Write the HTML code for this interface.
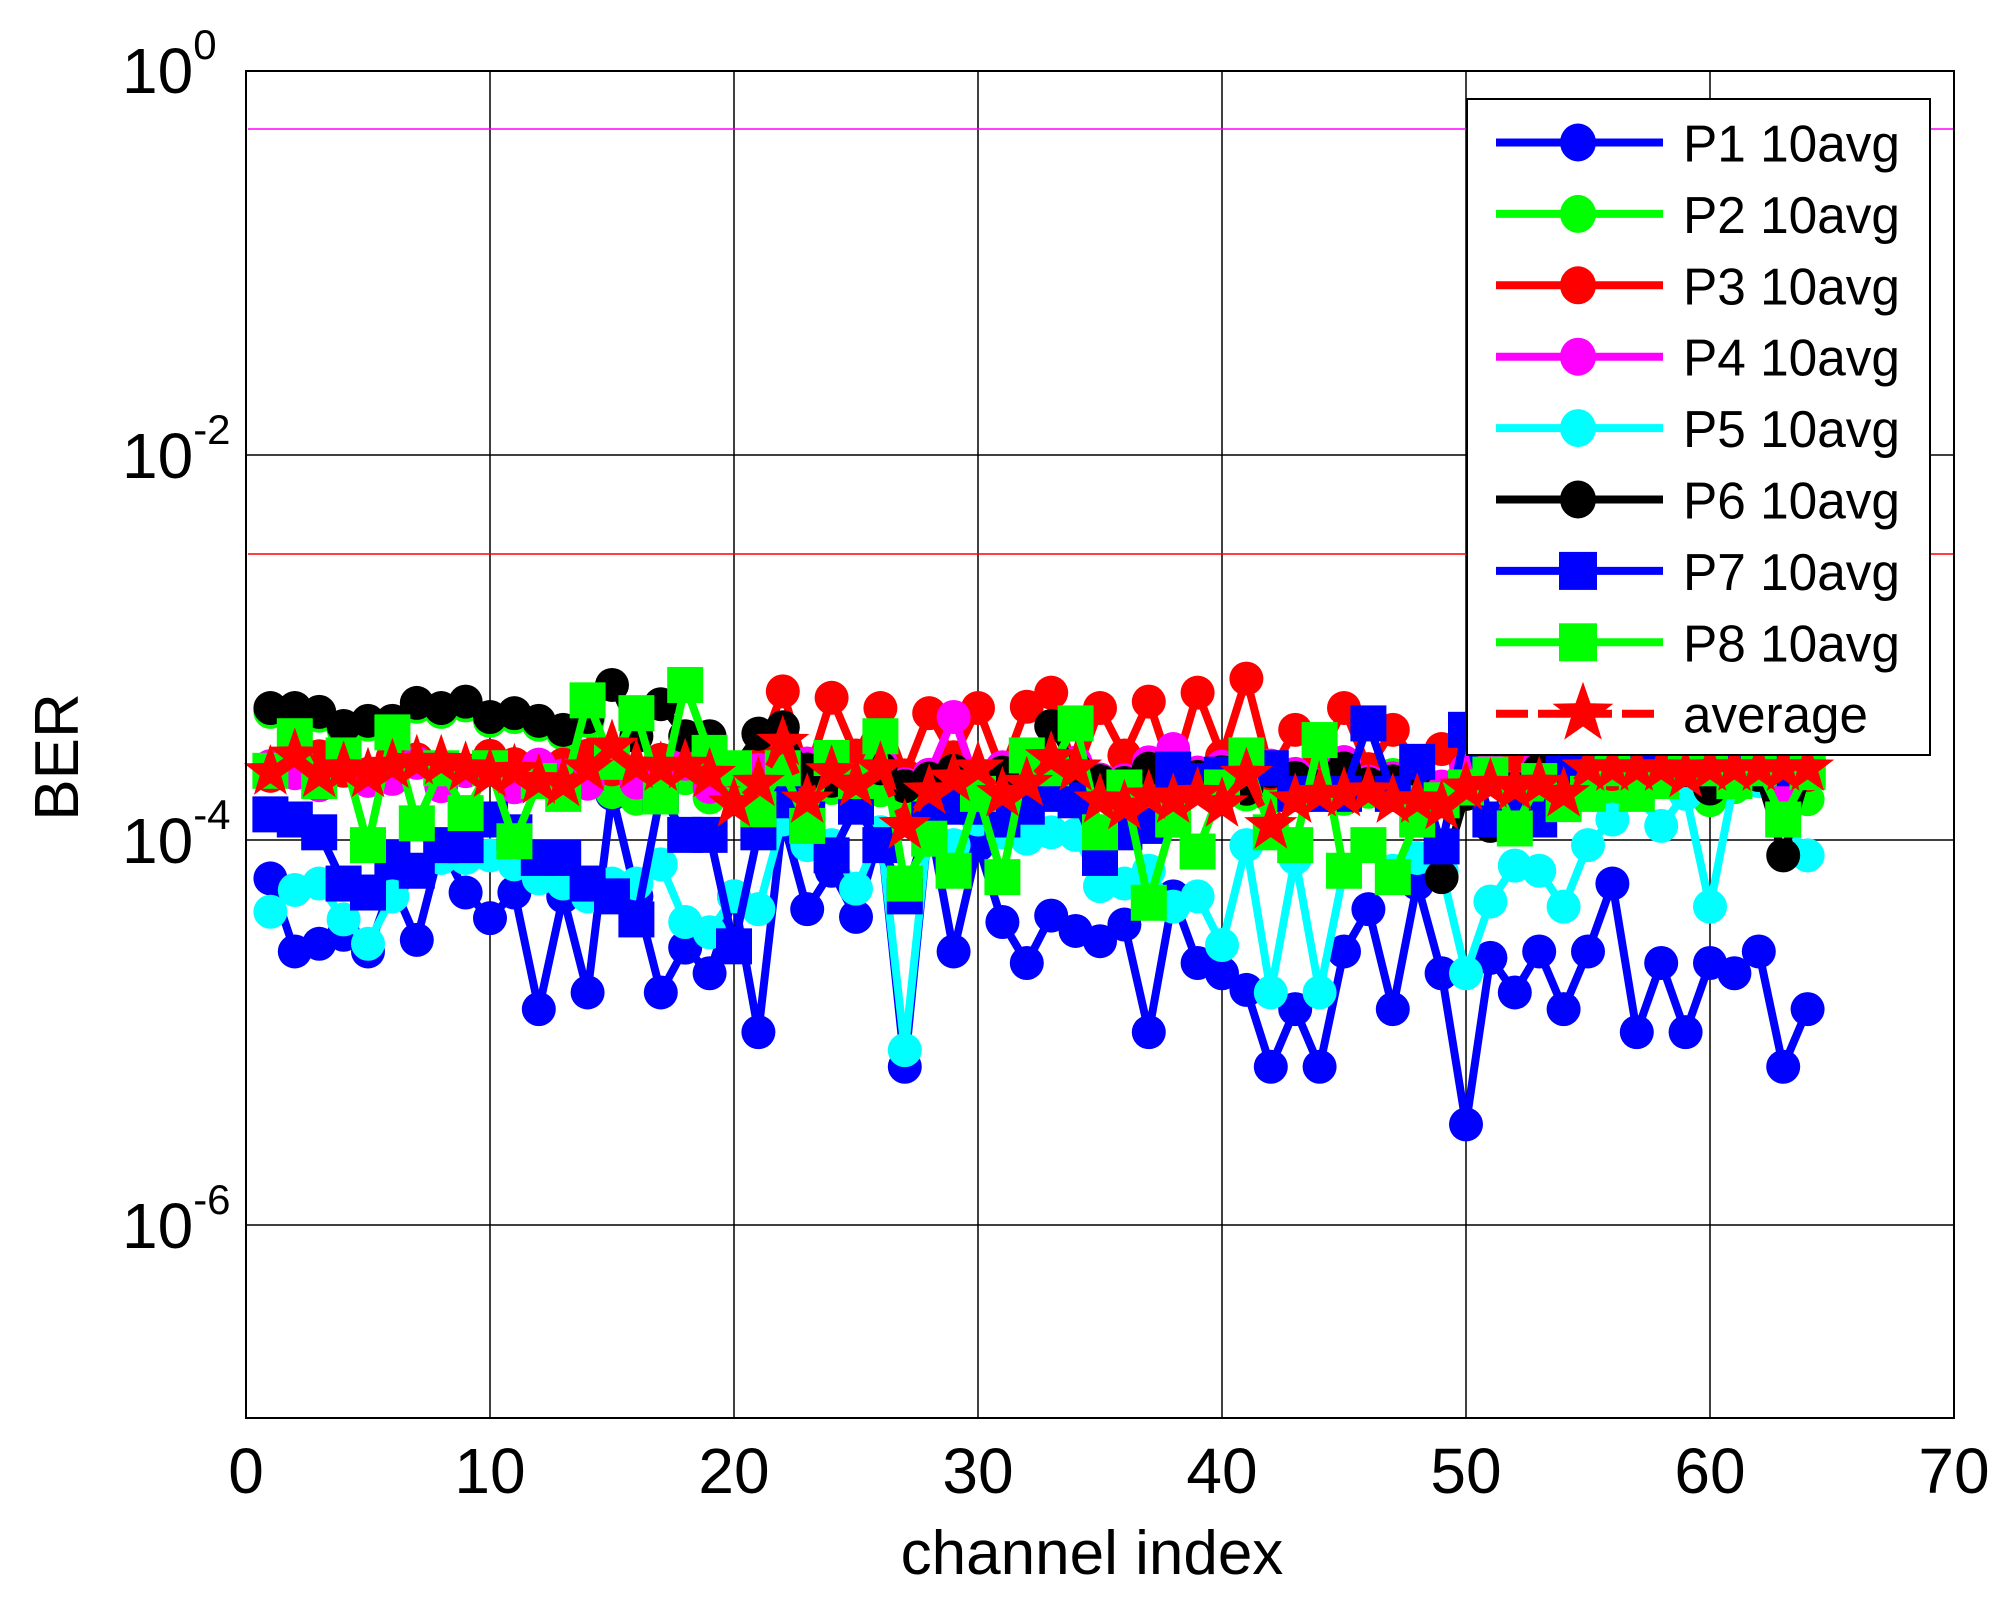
<!DOCTYPE html>
<html><head><meta charset="utf-8"><style>
html,body{margin:0;padding:0;background:#fff;}
svg{display:block;font-family:"Liberation Sans",Arial,sans-serif;}
</style></head><body>
<svg id="s" width="2009" height="1611" viewBox="0 0 2009 1611" xmlns="http://www.w3.org/2000/svg">
<rect x="0" y="0" width="2009" height="1611" fill="#fff"/>
<g id="grid" stroke="#000" stroke-width="1.5"></g>
<line x1="248" y1="129" x2="1954" y2="129" stroke="#ff00ff" stroke-width="1.5"/>
<line x1="248" y1="554" x2="1954" y2="554" stroke="#ff0000" stroke-width="1.5"/>
<g id="data"></g>
<rect x="246" y="71" width="1708" height="1347" fill="none" stroke="#000" stroke-width="2"/>
<g font-size="64" fill="#000" text-anchor="middle">
<text x="246" y="1493">0</text><text x="490" y="1493">10</text><text x="734" y="1493">20</text>
<text x="978" y="1493">30</text><text x="1222" y="1493">40</text><text x="1466" y="1493">50</text>
<text x="1710" y="1493">60</text><text x="1954" y="1493">70</text>
</g>
<g font-size="64" fill="#000">
<text x="122" y="93">10<tspan font-size="42" dy="-34">0</tspan></text>
<text x="122" y="478">10<tspan font-size="42" dy="-34">-2</tspan></text>
<text x="122" y="863">10<tspan font-size="42" dy="-34">-4</tspan></text>
<text x="122" y="1248">10<tspan font-size="42" dy="-34">-6</tspan></text>
</g>
<text x="1092" y="1574" font-size="62" text-anchor="middle">channel index</text>
<text transform="translate(78,757) rotate(-90)" font-size="62" text-anchor="middle">BER</text>
<g id="leg"></g>
</svg>
<script>
var NS="http://www.w3.org/2000/svg";
function el(p,t,a){var e=document.createElementNS(NS,t);for(var k in a)e.setAttribute(k,a[k]);p.appendChild(e);return e;}
var grid=document.getElementById('grid');
for(var i=1;i<7;i++){var x=246+i*244;el(grid,'line',{x1:x,y1:71,x2:x,y2:1418});}
[455,840,1225].forEach(function(y){el(grid,'line',{x1:246,y1:y,x2:1954,y2:y});});
function X(c){return 246+c*24.4;}
function Y(v){return 70+(v-55)*1.2812;}
var P1=[686,743,737,730,743,690,734,660,697,717,697,788,700,775,620,700,775,740,760,700,806,640,710,680,716,650,833,640,743,660,720,752,715,727,735,722,806,700,752,760,773,833,788,833,743,710,788,690,760,878,748,775,743,788,743,690,806,752,806,752,760,743,833,788];
var P5=[712,695,690,718,737,700,680,670,670,668,675,686,690,700,690,690,675,720,728,700,710,640,660,660,694,650,820,640,660,640,650,655,650,652,692,690,680,708,700,738,660,775,670,775,680,660,680,670,680,760,704,676,680,708,660,640,620,645,620,708,610,610,640,668];
var P3=[],P6=[],P2=[],P4=[];
var p3hi={22:540,24:545,26:553,28:557,30:553,32:552,33:541,35:553,37:548,39:541,41:530,43:570,45:553,47:570,49:585};
var p6=[553,553,556,567,563,563,549,553,548,560,557,563,570,560,535,575,550,575,575,600,573,568];
for(var c=1;c<=64;c++){
 var s=Math.sin(c*1.7),t=Math.cos(c*2.3);
 P3.push(p3hi[c]||(598+8*s));
 P6.push(c<=22?p6[c-1]:(608+8*t));
 P2.push(c<=14?p6[c-1]+3:(615+10*s));
 P4.push(c==29?560:(c==38?585:605+10*t));
}
P6[32]=567;P6[34]=610;P6[48]=685;P6[49]=620;P6[50]=645;P6[62]=668;P6[63]=603;
var P8=[602,575,610,590,660,572,643,600,635,600,657,610,620,547,595,557,622,535,588,600,632,600,645,592,610,575,690,655,680,620,685,590,600,565,650,615,705,640,665,615,590,650,660,578,680,660,685,640,625,615,605,647,610,628,620,600,620,610,600,600,610,600,640,603];
var P7=[636,640,650,690,697,670,680,660,660,640,650,670,670,690,700,718,620,652,652,739,650,625,640,668,630,660,700,640,630,630,640,630,620,625,670,650,645,601,610,605,600,600,620,620,620,565,620,595,661,570,640,630,640,600,600,600,600,600,600,600,600,600,600,600];
var AV=[603,590,605,600,605,598,595,595,600,605,602,610,612,600,583,598,600,598,605,628,612,580,625,603,612,600,645,618,608,600,620,612,592,600,625,630,622,625,620,628,605,645,625,620,620,618,625,625,630,615,613,615,612,620,600,600,600,600,605,600,600,600,600,600];
var D=document.getElementById('data');
function pts(a){return a.map(function(v,i){return X(i+1)+','+Y(v);}).join(' ');}
function star(g,cx,cy,R,col){var p=[];for(var k=0;k<10;k++){var r=k%2?R*0.4:R;var a=-Math.PI/2+k*Math.PI/5;p.push((cx+r*Math.cos(a)).toFixed(1)+','+(cy+r*Math.sin(a)).toFixed(1));}el(g,'polygon',{points:p.join(' '),fill:col});}
function series(a,col,mk,dash){
 var g=el(D,'g',{});
 var at={points:pts(a),fill:'none',stroke:col,'stroke-width':8,'stroke-linejoin':'round'};
 if(dash)at['stroke-dasharray']='24 14';
 el(g,'polyline',at);
 a.forEach(function(v,i){var x=X(i+1),y=Y(v);
  if(mk=='o')el(g,'ellipse',{cx:x,cy:y,rx:17,ry:17,fill:col});
  else if(mk=='s')el(g,'rect',{x:x-18,y:y-18,width:36,height:36,fill:col});
  else star(g,x,y,28,col);});
}
series(P1,'#0000ff','o');series(P2,'#00ff00','o');series(P3,'#ff0000','o');series(P4,'#ff00ff','o');
series(P5,'#00ffff','o');series(P6,'#000000','o');series(P7,'#0000ff','s');series(P8,'#00ff00','s');
series(AV,'#ff0000','*',true);
var L=document.getElementById('leg');
el(L,'rect',{x:1467,y:99,width:463,height:656,fill:'#fff',stroke:'#000','stroke-width':2});
var items=[['P1 10avg','#0000ff','o'],['P2 10avg','#00ff00','o'],['P3 10avg','#ff0000','o'],['P4 10avg','#ff00ff','o'],['P5 10avg','#00ffff','o'],['P6 10avg','#000000','o'],['P7 10avg','#0000ff','s'],['P8 10avg','#00ff00','s'],['average','#ff0000','*']];
items.forEach(function(it,i){var y=142.5+i*71.4;
 var at={x1:1496,y1:y,x2:1663,y2:y,stroke:it[1],'stroke-width':8};
 if(it[2]=='*')at['stroke-dasharray']='32 10';
 el(L,'line',at);
 if(it[2]=='o')el(L,'ellipse',{cx:1578,cy:y,rx:18,ry:19,fill:it[1]});
 else if(it[2]=='s')el(L,'rect',{x:1559,y:y-19,width:38,height:38,fill:it[1]});
 else star(L,1583,y,32,it[1]);
 var t=el(L,'text',{x:1683,y:y+19,'font-size':52,fill:'#000',textLength:(it[0]=='average'?185:217),lengthAdjust:'spacingAndGlyphs'});t.textContent=it[0];
});
</script>
</body></html>
